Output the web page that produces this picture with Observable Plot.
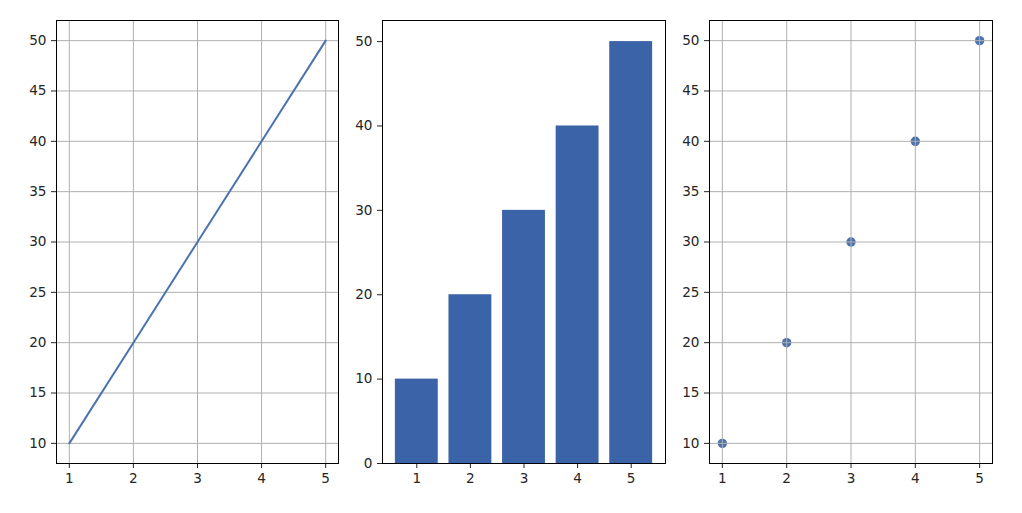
<!DOCTYPE html>
<html><head><meta charset="utf-8">
<script src="https://cdn.jsdelivr.net/npm/d3@7"></script>
<script src="https://cdn.jsdelivr.net/npm/@observablehq/plot@0.6"></script>
<style>
html,body{margin:0;padding:0;background:#fff;}
#wrap{position:relative;width:1022px;height:513px;}
#wrap svg{position:absolute;top:0;}
</style>
</head><body><div id="wrap"></div>
<script>
const xs = [1, 2, 3, 4, 5];
const ys = [10, 20, 30, 40, 50];
const lineYTicks = [10, 15, 20, 25, 30, 35, 40, 45, 50];
const barYTicks = [0, 10, 20, 30, 40, 50];
const xTicks = [1, 2, 3, 4, 5];
const barWidth = 0.8;

const data = xs.map((x, i) => ({x, y: ys[i]}));
const FONT = "'DejaVu Sans', sans-serif";
const FS = 13.6;
const TXT = "#262626";
const GRID = "#b0b0b0";
const wrap = document.getElementById("wrap");

function place(svg, left) { svg.style.left = left + "px"; wrap.appendChild(svg); }

function axes(yTicks, grid) {
  const m = [];
  if (grid) {
    m.push(Plot.gridX(xTicks, {stroke: GRID, strokeOpacity: 1, strokeWidth: 1}));
    m.push(Plot.gridY(yTicks, {stroke: GRID, strokeOpacity: 1, strokeWidth: 1}));
  }
  m.push(Plot.axisX(xTicks, {tickSize: 5, tickPadding: 5, stroke: TXT, fill: TXT, fontSize: FS, label: null, tickFormat: d => String(d)}));
  m.push(Plot.axisY(yTicks, {tickSize: 5, tickPadding: 5, stroke: TXT, fill: TXT, fontSize: FS, label: null, tickFormat: d => String(d)}));
  return m;
}

const common = {height: 513, marginTop: 20, marginBottom: 50,
  style: {fontFamily: FONT, fontSize: FS + "px", color: TXT, background: "transparent", overflow: "visible"}};

// Panel 1: line
const p1 = Plot.plot({
  ...common, width: 345, marginLeft: 56, marginRight: 7,
  x: {domain: [0.8, 5.2]}, y: {domain: [8, 52]},
  marks: [
    ...axes(lineYTicks, true),
    Plot.line(data, {x: "x", y: "y", stroke: "#4c72b0", strokeWidth: 2}),
    Plot.frame({stroke: "#000", strokeWidth: 1})
  ]
});
place(p1, 0);

// Panel 2: bars
const p2 = Plot.plot({
  ...common, width: 340, marginLeft: 37, marginRight: 20,
  x: {domain: [0.36, 5.64]}, y: {domain: [0, 52.5]},
  marks: [
    Plot.rectY(data, {x1: d => d.x - barWidth / 2, x2: d => d.x + barWidth / 2, y1: 0, y2: "y", fill: "#3b63a7"}),
    ...axes(barYTicks, false),
    Plot.frame({stroke: "#000", strokeWidth: 1})
  ]
});
place(p2, 345);

// Panel 3: scatter
const p3 = Plot.plot({
  ...common, width: 337, marginLeft: 24, marginRight: 30,
  x: {domain: [0.8, 5.2]}, y: {domain: [8, 52]},
  marks: [
    Plot.dot(data, {x: "x", y: "y", r: 4.7, fill: "#4c72b0", stroke: null}),
    ...axes(lineYTicks, true),
    Plot.frame({stroke: "#000", strokeWidth: 1})
  ]
});
place(p3, 685);
</script>
</body></html>
